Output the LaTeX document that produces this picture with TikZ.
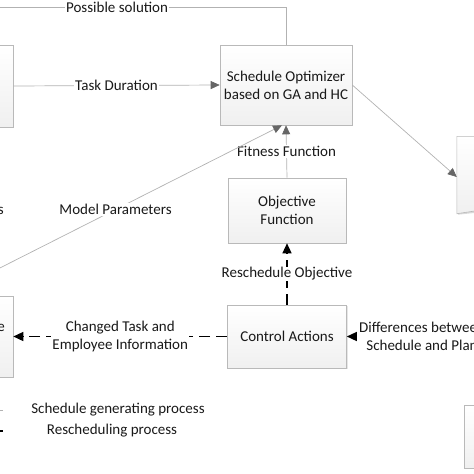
\documentclass[tikz,border=0pt]{standalone}
\usepackage{fontspec}
\setmainfont{Carlito}
\usetikzlibrary{arrows.meta,shadows,positioning}
\begin{document}
\begin{tikzpicture}[x=1pt,y=-1pt,
  font=\fontsize{15}{18}\selectfont,
  box/.style={draw=gray!55, line width=0.6pt, top color=white, bottom color=gray!12,
    drop shadow={opacity=0.2, shadow xshift=1pt, shadow yshift=-1pt}, align=center, inner sep=2pt, text=black!90},
  solidc/.style={draw=gray!60, line width=0.7pt, -{Triangle[length=9pt,width=8pt,fill=gray!80!black,color=gray!80!black]}},
  dashc/.style={draw=black, line width=1.4pt, dash pattern=on 11pt off 6pt, -{Triangle[length=10pt,width=9pt,fill=black]}},
  lbl/.style={fill=white, inner sep=1pt, text=black!90, align=center}]
\useasboundingbox (0,0) rectangle (474,474);
\clip (0,0) rectangle (474,474);
% boxes
\node[box, minimum width=120pt, minimum height=82pt] (leftA) at (-47,86) {};
\node[box, minimum width=132pt, minimum height=80pt] (opt) at (286,85) {Schedule Optimizer\\based on GA and HC};
\node[box, minimum width=118pt, minimum height=65pt] (obj) at (287,210.5) {Objective\\Function};
\node[box, minimum width=119pt, minimum height=63pt] (ctrl) at (287,336.5) {Control Actions};
\node[box, minimum width=120pt, minimum height=81pt] (leftB) at (-47,336.5) {};
\node[box, minimum width=72pt, minimum height=63pt] (brbox) at (500,436.5) {};
\node[minimum width=66pt, minimum height=70pt, inner sep=0pt] (doc) at (490,171.5) {};
\fill[gray!30] ([xshift=1pt,yshift=-1pt]doc.north west) -- ([xshift=1pt,yshift=-1pt]doc.north east) -- ([xshift=1pt,yshift=-1pt]doc.south east) -- ([xshift=1pt,yshift=-8pt]doc.south west) -- cycle;
\path[draw=gray!55, line width=0.6pt, top color=white, bottom color=gray!12] (doc.north west) -- (doc.north east) -- (doc.south east) -- ([yshift=-2pt]doc.south) -- ([yshift=-7pt]doc.south west) -- cycle;
% partial texts
\node[anchor=east, inner sep=0pt, text=black!90] (tA) at (5,328) {e};
\node[anchor=east, inner sep=0pt, text=black!90] (tS) at (4,211) {s};
% connectors
\coordinate (ps) at (-20,7);
\draw[solidc] (opt.north) |- (ps) node[lbl, pos=0.776] {Possible solution};
\draw[solidc] (leftA.east) -- node[lbl] {Task Duration} (opt.west);
\draw[solidc] (opt.east) -- ([yshift=-5.5pt]doc.west);
\draw[solidc] (obj.north) -- node[lbl] {Fitness Function} (opt.south);
\coordinate (mp) at (-10,273);
\draw[solidc] (mp) -- node[lbl, pos=0.43] {Model Parameters} ([xshift=-4pt]opt.south);
\draw[dashc] (ctrl.north) -- node[lbl] {Reschedule Objective} (obj.south);
\draw[dashc] (ctrl.west) -- node[lbl] {Changed Task and\\Employee Information} (leftB.east);
\coordinate (df) at (490,336.5);
\draw[dashc] (df) -- (ctrl.east);
\node[lbl, anchor=west] (dlbl) at (358,336.5) {Differences between\\Schedule and Plan};
% legend
\coordinate (l1a) at (-20,410); \coordinate (l1b) at (3,410);
\coordinate (l2a) at (-20,431); \coordinate (l2b) at (3,431);
\draw[draw=gray!60, line width=0.7pt] (l1a) -- (l1b);
\draw[draw=black, line width=1.4pt] (l2a) -- (l2b);
\node[text=black!90] (leg1) at (118,410) {Schedule generating process};
\node[text=black!90] (leg2) at (112,431) {Rescheduling process};
\end{tikzpicture}
\end{document}
